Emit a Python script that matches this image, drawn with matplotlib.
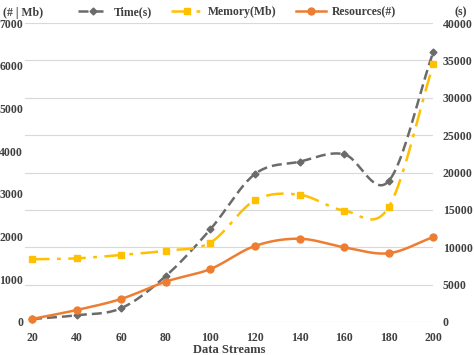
import numpy as np
import matplotlib
matplotlib.use("Agg")
import matplotlib.pyplot as plt
from matplotlib.lines import Line2D

plt.rcParams['font.family'] = ['Liberation Serif', 'DejaVu Serif']

# data
streams = [20, 40, 60, 80, 100, 120, 140, 160, 180, 200]
time_s = [400, 900, 1850, 6150, 12400, 19800, 21450, 22450, 18850, 36150]
memory_mb = [1470, 1490, 1570, 1670, 1860, 2850, 2980, 2610, 2690, 6030]
resources = [70, 280, 540, 945, 1240, 1780, 1950, 1750, 1610, 1990]

GRAY = '#6b6b6b'
GOLD = '#FFC000'
ORANGE = '#ED7D31'
TXT = '#404040'


def smooth(x, y, n=24):
    # Catmull-Rom curve through the points, like Excel's smoothed line
    x = np.asarray(x, float)
    y = np.asarray(y, float)
    px = np.concatenate([[2 * x[0] - x[1]], x, [2 * x[-1] - x[-2]]])
    py = np.concatenate([[2 * y[0] - y[1]], y, [2 * y[-1] - y[-2]]])
    t = np.linspace(0, 1, n)[:, None]
    xs, ys = [], []
    for i in range(1, len(px) - 2):
        for p, out in ((px, xs), (py, ys)):
            p0, p1, p2, p3 = p[i - 1], p[i], p[i + 1], p[i + 2]
            seg = 0.5 * ((2 * p1) + (-p0 + p2) * t + (2 * p0 - 5 * p1 + 4 * p2 - p3) * t ** 2
                         + (-p0 + 3 * p1 - 3 * p2 + p3) * t ** 3)
            out.append(seg.ravel())
    return np.concatenate(xs), np.concatenate(ys)


fig = plt.figure(figsize=(4.74, 3.55), dpi=100)
ax = fig.add_axes([0.053, 0.093, 0.861, 0.842])
ax2 = ax.twinx()

ax.set_xlim(16.9, 200)
ax.set_ylim(0, 7000)
ax2.set_ylim(0, 40000)

ax2.set_yticks(np.arange(0, 40001, 5000))
ax2.grid(True, axis='y', color='#d9d9d9', linewidth=0.8)
ax2.set_axisbelow(True)
ax.set_yticks(np.arange(0, 7001, 1000))
ax.set_xticks(streams)

for a in (ax, ax2):
    for s in a.spines.values():
        s.set_visible(False)
    a.tick_params(length=0, labelsize=8.5, labelcolor=TXT)
ax.tick_params(axis='y', pad=1.5)
ax2.tick_params(axis='y', pad=7)
ax.tick_params(axis='x', pad=7)
for lab in ax.get_xticklabels() + ax.get_yticklabels() + ax2.get_yticklabels():
    lab.set_fontweight('bold')

# memory and resources on the left axis
mx, my = smooth(streams, memory_mb)
ax.plot(mx, my, color=GOLD, linewidth=1.8, linestyle=(0, (7, 3, 1.5, 3)), zorder=3)
ax.plot(streams, memory_mb, 's', color=GOLD, markersize=5, zorder=4, clip_on=False)

rx, ry = smooth(streams, resources)
ax.plot(rx, ry, color=ORANGE, linewidth=1.8, zorder=3)
ax.plot(streams, resources, 'o', color=ORANGE, markersize=5, zorder=4, clip_on=False)

# time on the right axis
tx, ty = smooth(streams, time_s)
ax2.plot(tx, ty, color=GRAY, linewidth=1.8, linestyle=(0, (4, 2)), zorder=3)
ax2.plot(streams, time_s, 'D', color=GRAY, markersize=3.5, zorder=4, clip_on=False)
ax2.patch.set_visible(False)
ax.set_zorder(ax2.get_zorder() + 1)
ax.patch.set_visible(False)

ax.set_xlabel('Data Streams', fontsize=9, color=TXT, fontweight='bold', labelpad=0)
fig.text(0.006, 0.962, '(# | Mb)', fontsize=8.5, color=TXT, fontweight='bold', va='center')
fig.text(0.958, 0.965, '(s)', fontsize=8.5, color=TXT, fontweight='bold', va='center')

handles = [
    Line2D([], [], color=GRAY, linewidth=1.8, linestyle=(0, (4, 2)), marker='D', markersize=3.5),
    Line2D([], [], color=GOLD, linewidth=1.8, linestyle=(0, (7, 3, 1.5, 3)), marker='s', markersize=5),
    Line2D([], [], color=ORANGE, linewidth=1.8, marker='o', markersize=5),
]
leg = fig.legend(handles, ['Time(s)', 'Memory(Mb)', 'Resources(#)'], loc='center',
                 bbox_to_anchor=(0.5, 0.965), ncol=3, frameon=False, fontsize=8.5,
                 handlelength=2.6, columnspacing=1.6, handletextpad=0.5)
for t in leg.get_texts():
    t.set_color(TXT)
    t.set_fontweight('bold')

fig.savefig('out.png', dpi=100)
